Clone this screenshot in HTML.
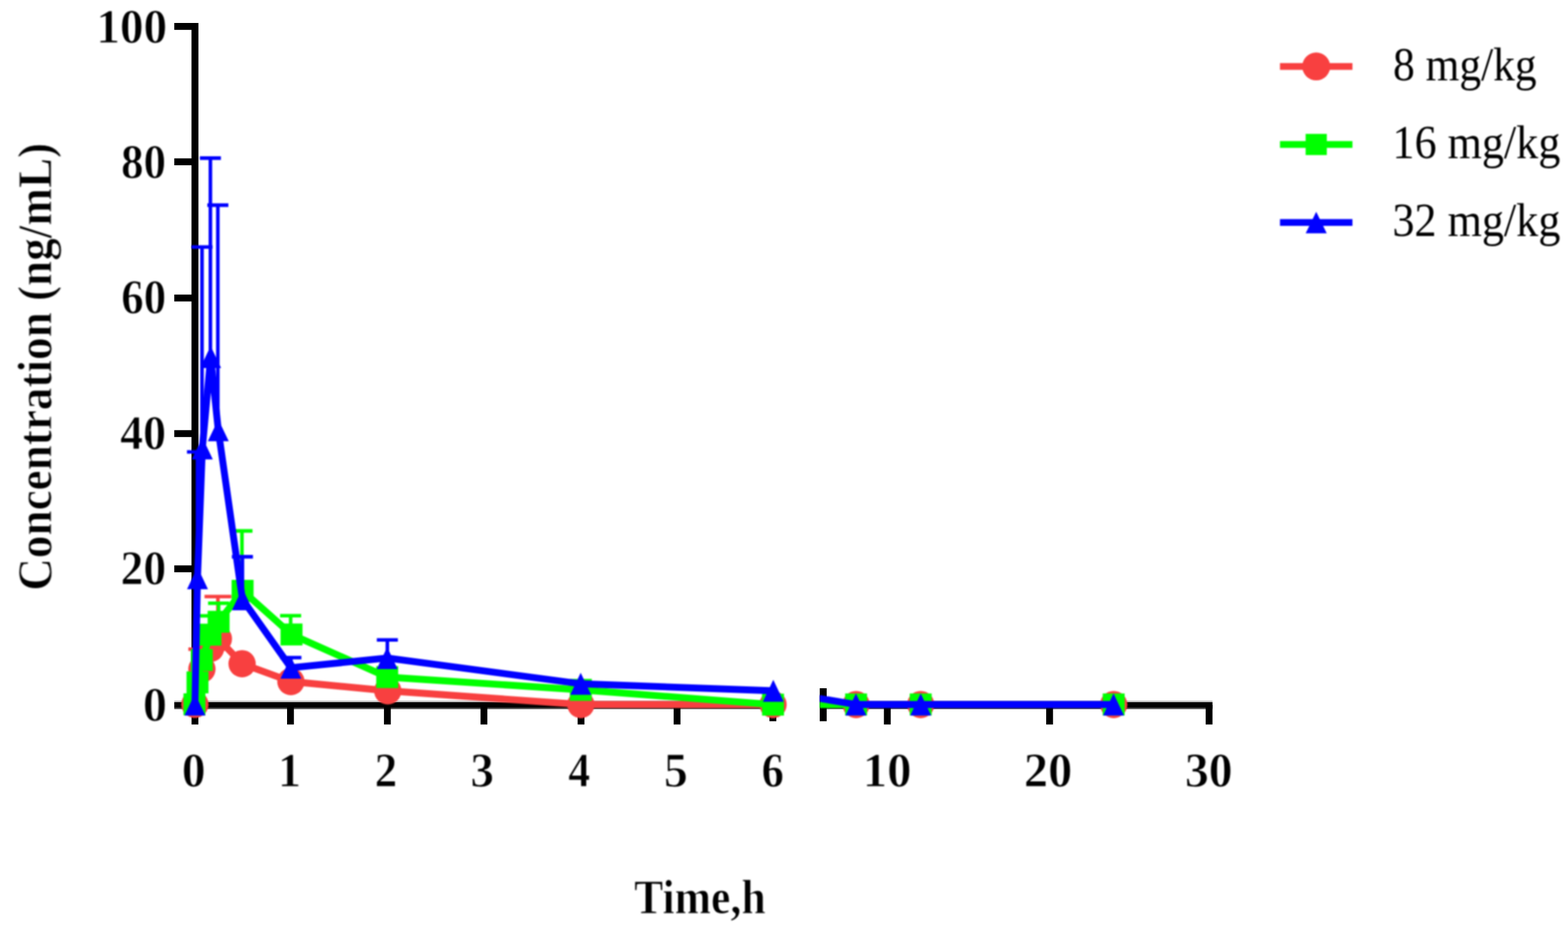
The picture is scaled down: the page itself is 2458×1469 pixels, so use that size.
<!DOCTYPE html>
<html lang="en"><head><meta charset="utf-8"><title>Concentration vs Time</title>
<style>html,body{margin:0;padding:0;background:#fff}body{width:2458px;height:1469px}svg{display:block}text{font-family:"Liberation Serif","DejaVu Serif",serif;fill:#000}.b{font-weight:bold;stroke:#fff;stroke-width:1.1px;stroke-linejoin:round}</style></head><body>
<svg width="2458" height="1469" viewBox="0 0 2458 1469" role="img" aria-label="Concentration (ng/mL) versus Time,h for 8, 16 and 32 mg/kg">
<rect width="2458" height="1469" fill="#fff"/>
<defs><filter id="soft" x="0" y="0" width="2458" height="1469" filterUnits="userSpaceOnUse" color-interpolation-filters="sRGB"><feGaussianBlur stdDeviation="1"/></filter></defs>
<g id="chart">
<g id="axes" fill="#000">
<rect x="300.2" y="36" width="10.9" height="1075.4"/>
<rect x="273.2" y="1098.2" width="943.6" height="3" fill="#cdcdcd"/>
<rect x="273.2" y="1109" width="943.6" height="2.8" fill="#555"/>
<rect x="273.2" y="1100.8" width="943.6" height="8.7"/>
<rect x="1285" y="1098.2" width="615.7" height="3" fill="#cdcdcd"/>
<rect x="1285" y="1109" width="615.7" height="2.8" fill="#555"/>
<rect x="1285" y="1100.8" width="615.7" height="8.7"/>
<rect x="1206.2" y="1079" width="10.8" height="51.7"/>
<rect x="1285" y="1079" width="10.9" height="51.7"/>
<rect x="273.2" y="36.0" width="30" height="10.8"/>
<rect x="273.2" y="248.3" width="30" height="10.8"/>
<rect x="273.2" y="461.8" width="30" height="10.8"/>
<rect x="273.2" y="674.4" width="30" height="10.8"/>
<rect x="273.2" y="886.4" width="30" height="10.8"/>
<rect x="300.3" y="1105" width="10.7" height="30.8"/>
<rect x="450.0" y="1105" width="10.7" height="30.8"/>
<rect x="601.9" y="1105" width="10.7" height="30.8"/>
<rect x="753.3" y="1105" width="10.7" height="30.8"/>
<rect x="905.5" y="1105" width="10.7" height="30.8"/>
<rect x="1056.0" y="1105" width="10.7" height="30.8"/>
<rect x="1385.6" y="1105" width="10.7" height="30.8"/>
<rect x="1640.0" y="1105" width="10.7" height="30.8"/>
<rect x="1890.0" y="1105" width="10.7" height="30.8"/>
</g>
<defs><clipPath id="gap"><path d="M0 0H1217V1469H0ZM1285 0H2458V1469H1285Z"/></clipPath></defs>
<g id="data" filter="url(#soft)">
<g id="s8" fill="#f84040" stroke="#f84040">
<path d="M316.3 1049.0V1017.8M295.3 1017.8H337.3" fill="none" stroke-width="5.6"/>
<path d="M341.6 1001.5V935.2M320.6 935.2H362.6" fill="none" stroke-width="5.6"/>
<path d="M305.5 1104.2 L316.5 1049.0 L330.0 1016.5 L342.3 1001.5 L379.5 1040.6 L456.0 1068.5 L607.8 1083.0 L910.5 1104.5 L1211.8 1104.5 L1342.0 1104.6 L1443.3 1104.6 L1745.8 1104.6" fill="none" stroke-width="10.8" stroke-linejoin="round" clip-path="url(#gap)"/>
<circle cx="305.5" cy="1104.2" r="21.4" stroke="none"/>
<circle cx="316.5" cy="1049.0" r="21.4" stroke="none"/>
<circle cx="330.0" cy="1016.5" r="21.4" stroke="none"/>
<circle cx="342.3" cy="1001.5" r="21.4" stroke="none"/>
<circle cx="379.5" cy="1040.6" r="21.4" stroke="none"/>
<circle cx="456.0" cy="1068.5" r="21.4" stroke="none"/>
<circle cx="607.8" cy="1083.0" r="21.4" stroke="none"/>
<circle cx="910.5" cy="1104.5" r="21.4" stroke="none"/>
<circle cx="1211.8" cy="1104.5" r="21.4" stroke="none"/>
<circle cx="1342.0" cy="1104.6" r="21.4" stroke="none"/>
<circle cx="1443.3" cy="1104.6" r="21.4" stroke="none"/>
<circle cx="1745.8" cy="1104.6" r="21.4" stroke="none"/>
</g>
<g id="s16" fill="#00ff00" stroke="#00ff00">
<path d="M330.0 995.0V965.5M313.5 965.5H346.5" fill="none" stroke-width="5.6"/>
<path d="M342.7 974.8V945.7M326.2 945.7H359.2" fill="none" stroke-width="5.6"/>
<path d="M379.3 926.3V832.4M362.8 832.4H395.8" fill="none" stroke-width="5.6"/>
<path d="M455.6 994.7V965.2M439.1 965.2H472.1" fill="none" stroke-width="5.6"/>
<path d="M304.8 1104.2 L309.6 1069.8 L316.3 1034.7 L330.0 995.0 L342.7 974.8 L380.3 926.3 L457.0 994.7 L607.0 1061.5 L910.5 1081.5 L1211.8 1104.7 L1342.0 1104.4 L1443.3 1104.4 L1745.8 1104.4" fill="none" stroke-width="10.8" stroke-linejoin="round" clip-path="url(#gap)"/>
<rect x="287.6" y="1087.0" width="34.4" height="34.4" stroke="none"/>
<rect x="292.4" y="1052.6" width="34.4" height="34.4" stroke="none"/>
<rect x="299.1" y="1017.5" width="34.4" height="34.4" stroke="none"/>
<rect x="312.8" y="977.8" width="34.4" height="34.4" stroke="none"/>
<rect x="325.5" y="957.6" width="34.4" height="34.4" stroke="none"/>
<rect x="363.1" y="909.1" width="34.4" height="34.4" stroke="none"/>
<rect x="439.8" y="977.5" width="34.4" height="34.4" stroke="none"/>
<rect x="589.8" y="1044.3" width="34.4" height="34.4" stroke="none"/>
<rect x="893.3" y="1064.3" width="34.4" height="34.4" stroke="none"/>
<rect x="1194.6" y="1087.5" width="34.4" height="34.4" stroke="none"/>
<rect x="1324.8" y="1087.2" width="34.4" height="34.4" stroke="none"/>
<rect x="1426.1" y="1087.2" width="34.4" height="34.4" stroke="none"/>
<rect x="1728.6" y="1087.2" width="34.4" height="34.4" stroke="none"/>
</g>
<g id="s32" fill="#0000ff" stroke="#0000ff">
<path d="M309.6 906.5V708.5M293.1 708.5H326.1" fill="none" stroke-width="5.6"/>
<path d="M316.7 703.0V387.3M300.2 387.3H333.2" fill="none" stroke-width="5.6"/>
<path d="M329.8 559.8V247.9M313.3 247.9H346.3" fill="none" stroke-width="5.6"/>
<path d="M341.5 674.6V321.6M325.0 321.6H358.0" fill="none" stroke-width="5.6"/>
<path d="M380.0 939.5V872.9M363.5 872.9H396.5" fill="none" stroke-width="5.6"/>
<path d="M456.0 1046.8V1031.0M439.5 1031.0H472.5" fill="none" stroke-width="5.6"/>
<path d="M607.2 1031.7V1003.3M590.7 1003.3H623.7" fill="none" stroke-width="5.6"/>
<path d="M305.6 1104.5 L309.6 906.5 L317.2 703.0 L330.2 559.8 L342.2 674.6 L380.0 939.5 L456.0 1046.8 L607.0 1031.7 L910.3 1072.0 L1212.2 1083.0 L1341.8 1104.5 L1443.3 1104.5 L1745.6 1104.5" fill="none" stroke-width="10.8" stroke-linejoin="round" clip-path="url(#gap)"/>
<path d="M305.6 1087.3L322.0 1121.7H289.2Z" stroke="none"/>
<path d="M309.6 889.3L326.0 923.7H293.2Z" stroke="none"/>
<path d="M317.2 685.8L333.6 720.2H300.8Z" stroke="none"/>
<path d="M330.2 542.6L346.6 577.0H313.8Z" stroke="none"/>
<path d="M342.2 657.4L358.6 691.8H325.8Z" stroke="none"/>
<path d="M380.0 922.3L396.4 956.7H363.6Z" stroke="none"/>
<path d="M456.0 1029.6L472.4 1064.0H439.6Z" stroke="none"/>
<path d="M607.0 1014.5L623.4 1048.9H590.6Z" stroke="none"/>
<path d="M910.3 1054.8L926.7 1089.2H893.9Z" stroke="none"/>
<path d="M1212.2 1065.8L1228.6 1100.2H1195.8Z" stroke="none"/>
<path d="M1341.8 1087.3L1358.2 1121.7H1325.4Z" stroke="none"/>
<path d="M1443.3 1087.3L1459.7 1121.7H1426.9Z" stroke="none"/>
<path d="M1745.6 1087.3L1762.0 1121.7H1729.2Z" stroke="none"/>
</g>
</g>
<g id="legend" filter="url(#soft)">
<rect x="2006.5" y="98.9" width="113.6" height="10.6" fill="#f84040"/>
<circle cx="2063.3" cy="104.2" r="21.9" fill="#f84040"/>
<rect x="2006.5" y="221.2" width="113.6" height="10.6" fill="#00ff00"/>
<rect x="2046.7" y="209.9" width="33.2" height="33.2" fill="#00ff00"/>
<rect x="2006.5" y="343.5" width="113.6" height="10.6" fill="#0000ff"/>
<path d="M2063.3 331.9L2079.8 365.8H2046.8Z" fill="#0000ff"/>
</g>
<g id="labels" font-size="77" filter="url(#soft)">
<text class="b" x="151.0" y="67.2" textLength="111.1" lengthAdjust="spacingAndGlyphs">100</text>
<text class="b" x="189.8" y="278.8" textLength="70.6" lengthAdjust="spacingAndGlyphs">80</text>
<text class="b" x="190.0" y="491.4" textLength="70.5" lengthAdjust="spacingAndGlyphs">60</text>
<text class="b" x="188.2" y="703.8" textLength="72.3" lengthAdjust="spacingAndGlyphs">40</text>
<text class="b" x="188.9" y="916.4" textLength="71.6" lengthAdjust="spacingAndGlyphs">20</text>
<text class="b" x="224.1" y="1129.6" textLength="37.8" lengthAdjust="spacingAndGlyphs">0</text>
<text class="b" x="284.9" y="1233.0" textLength="37.3" lengthAdjust="spacingAndGlyphs">0</text>
<text class="b" x="435.8" y="1233.0" textLength="36.1" lengthAdjust="spacingAndGlyphs">1</text>
<text class="b" x="587.2" y="1233.0" textLength="35.5" lengthAdjust="spacingAndGlyphs">2</text>
<text class="b" x="737.5" y="1233.0" textLength="36.9" lengthAdjust="spacingAndGlyphs">3</text>
<text class="b" x="890.8" y="1233.0" textLength="34.5" lengthAdjust="spacingAndGlyphs">4</text>
<text class="b" x="1040.8" y="1233.0" textLength="37.5" lengthAdjust="spacingAndGlyphs">5</text>
<text class="b" x="1193.8" y="1233.0" textLength="35.2" lengthAdjust="spacingAndGlyphs">6</text>
<text class="b" x="1352.6" y="1233.0" textLength="76.3" lengthAdjust="spacingAndGlyphs">10</text>
<text class="b" x="1605.1" y="1233.0" textLength="75.9" lengthAdjust="spacingAndGlyphs">20</text>
<text class="b" x="1857.4" y="1233.0" textLength="74.9" lengthAdjust="spacingAndGlyphs">30</text>
<text class="b" x="993.9" y="1431.9" textLength="206.5" lengthAdjust="spacingAndGlyphs">Time,h</text>
<text class="b" transform="translate(80.3 926.1) rotate(-90)" textLength="702.0" lengthAdjust="spacingAndGlyphs">Concentration (ng/mL)</text>
<text font-size="75" x="2183.7" y="125.5" textLength="225.1" lengthAdjust="spacingAndGlyphs">8 mg/kg</text>
<text font-size="75" x="2182.8" y="247.5" textLength="263.2" lengthAdjust="spacingAndGlyphs">16 mg/kg</text>
<text font-size="75" x="2182.7" y="369.8" textLength="263.3" lengthAdjust="spacingAndGlyphs">32 mg/kg</text>
</g>
</g>
</svg>
</body></html>
